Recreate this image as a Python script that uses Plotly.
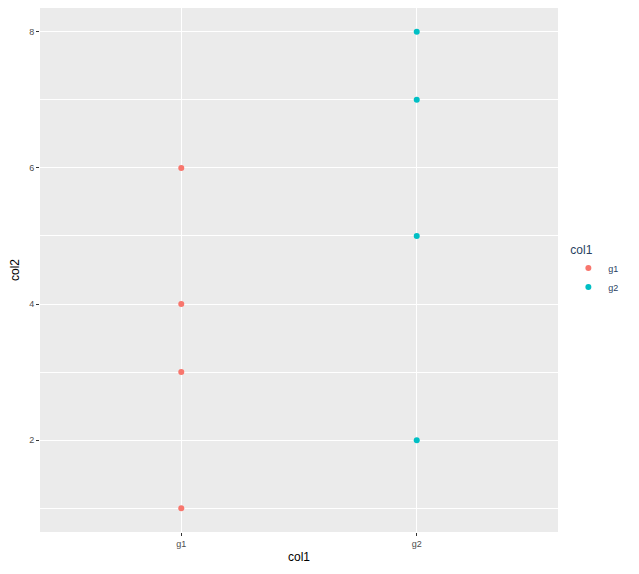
import plotly.graph_objects as go

groups = ["g1", "g2"]
colors = ["#F8766D", "#00BFC4"]
g1_vals = [1, 3, 4, 6]
g2_vals = [2, 5, 7, 8]

fig = go.Figure()
for name, vals, c in zip(groups, [g1_vals, g2_vals], colors):
    fig.add_trace(go.Scatter(
        x=[name] * len(vals), y=vals, mode="markers", name=name,
        marker=dict(color=c, size=6),
    ))

axis_common = dict(
    showline=False, zeroline=False, gridcolor="white", gridwidth=1.2,
    ticks="outside", ticklen=3, tickcolor="#333333",
    tickfont=dict(size=9, color="#4D4D4D"),
    title_font=dict(size=12, color="black"),
)
fig.update_xaxes(**axis_common, title_text="col1", range=[-0.6, 1.6], title_standoff=4)
fig.update_yaxes(**axis_common, title_text="col2", range=[0.65, 8.35],
                 tick0=0, dtick=2, title_standoff=6,
                 minor=dict(dtick=1, showgrid=True, gridcolor="white", gridwidth=0.5))
fig.update_layout(
    width=623, height=558,
    margin=dict(l=32, r=73, t=0, b=34, autoexpand=False),
    plot_bgcolor="#EBEBEB", paper_bgcolor="white",
    font=dict(family="Liberation Sans, Arial, sans-serif"),
    legend=dict(title=dict(text="col1", font=dict(size=12)),
                font=dict(size=9), x=1.02, y=0.5, yanchor="middle"),
)
fig.write_html("out.html")
